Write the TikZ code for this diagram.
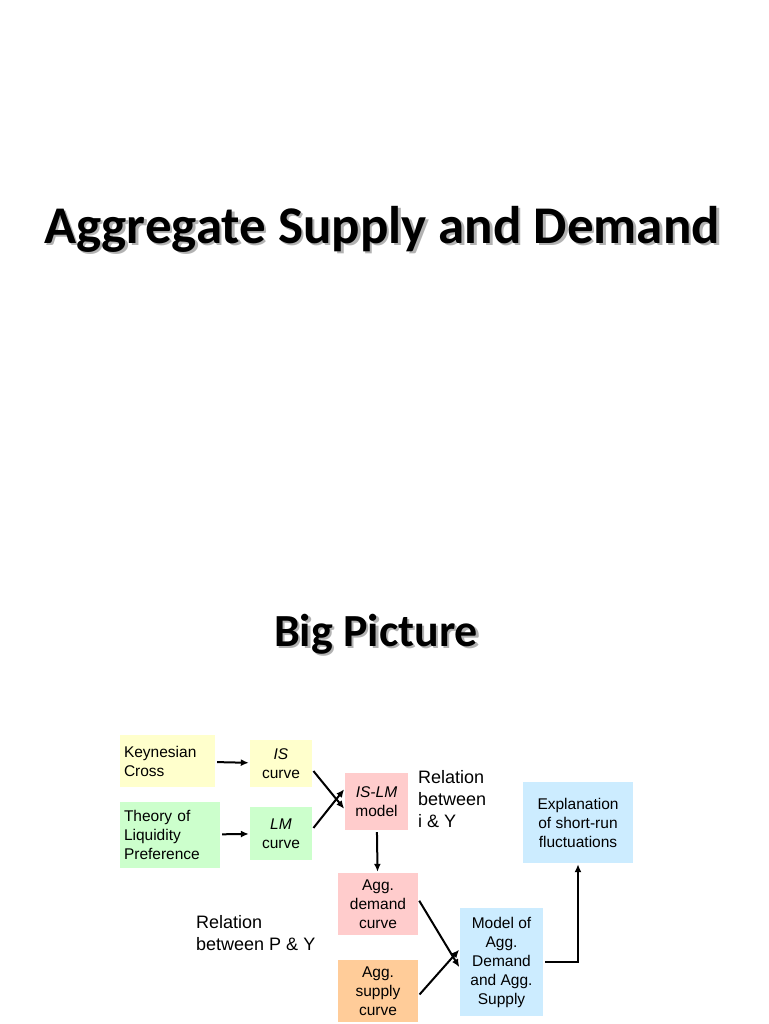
\documentclass[tikz,border=0pt]{standalone}
\usepackage{fontspec}
\setmainfont{Liberation Sans}
\newfontfamily\titlefont{Carlito}
\usetikzlibrary{positioning,arrows.meta}
\definecolor{boxyellow}{HTML}{FFFFCC}
\definecolor{boxgreen}{HTML}{CCFFCC}
\definecolor{boxpink}{HTML}{FFCCCC}
\definecolor{boxorange}{HTML}{FFCC99}
\definecolor{boxblue}{HTML}{CCECFF}
\tikzset{
    flow-box/.style = {rectangle, inner sep=0pt, align=center, font=\fontsize{15.5}{19}\selectfont},
    flow-label/.style = {anchor=north west, align=left, inner sep=0pt, font=\fontsize{18}{22}\selectfont},
    flow-arrow/.style = {draw, line width=2pt, -{Latex[length=8pt,width=7pt]}, shorten <=2pt, shorten >=1pt},
    big-title/.style = {font=\titlefont\bfseries\fontsize{53}{57}\selectfont},
}
\begin{document}
\begin{tikzpicture}[x=1pt, y=-1pt]
\useasboundingbox (0,0) rectangle (768,1024);
% titles with shadow
\node[big-title, text=gray!60] (title-shadow) at (384.5,231.5) {Aggregate Supply and Demand};
\node[big-title] (title) at (382,229) {Aggregate Supply and Demand};
\node[big-title, font=\titlefont\bfseries\fontsize{46}{50}\selectfont, text=gray!60] (subtitle-shadow) at (378.5,636.5) {Big Picture};
\node[big-title, font=\titlefont\bfseries\fontsize{46}{50}\selectfont] (subtitle) at (376,634) {Big Picture};
% boxes
\node[flow-box, fill=boxyellow, minimum width=95pt, minimum height=52pt, align=left, text width=87pt] (cross) at (167.5,761) {Keynesian\\Cross};
\node[flow-box, fill=boxyellow, minimum width=62pt, minimum height=47pt] (is) at (281,763.5) {\textit{IS}\\curve};
\node[flow-box, fill=boxgreen, minimum width=100pt, minimum height=66pt, align=left, text width=92pt] (liquidity) at (170,835) {Theory of\\Liquidity\\Preference};
\node[flow-box, fill=boxgreen, minimum width=62pt, minimum height=53pt] (lm) at (281,833.5) {\textit{LM}\\curve};
\node[flow-box, fill=boxpink, minimum width=63pt, minimum height=57pt] (islm) at (376.5,801.5) {\textit{IS-LM}\\model};
\node[flow-box, fill=boxpink, minimum width=80pt, minimum height=62pt] (demand) at (378,904) {Agg.\\demand\\curve};
\node[flow-box, fill=boxorange, minimum width=80pt, minimum height=62pt] (supply) at (378,991) {Agg.\\supply\\curve};
\node[flow-box, fill=boxblue, minimum width=83pt, minimum height=108pt] (model) at (501.5,962) {Model of\\Agg.\\Demand\\and Agg.\\Supply};
\node[flow-box, fill=boxblue, minimum width=110pt, minimum height=81pt] (explain) at (578,822.5) {Explanation\\of short-run\\fluctuations};
% labels
\node[flow-label] (rel-iy) at (418,770) {Relation\\between\\i \& Y};
\node[flow-label] (rel-py) at (196,915) {Relation\\between P \& Y};
% arrows
\draw[flow-arrow] (cross) -- (is);
\draw[flow-arrow] (liquidity) -- (lm);
\draw[flow-arrow] ([yshift=-6pt]is.east) -- ([yshift=-8pt]islm.west);
\draw[flow-arrow] ([yshift=4pt]lm.east) -- ([yshift=13pt]islm.west);
\draw[flow-arrow] (islm) -- (demand);
\draw[flow-arrow] ([yshift=5pt]demand.east) -- ([yshift=-6pt]model.west);
\draw[flow-arrow] ([yshift=-5pt]supply.east) -- ([yshift=13pt]model.west);
\draw[flow-arrow] (model.east) -| (explain.south);
\end{tikzpicture}
\end{document}
